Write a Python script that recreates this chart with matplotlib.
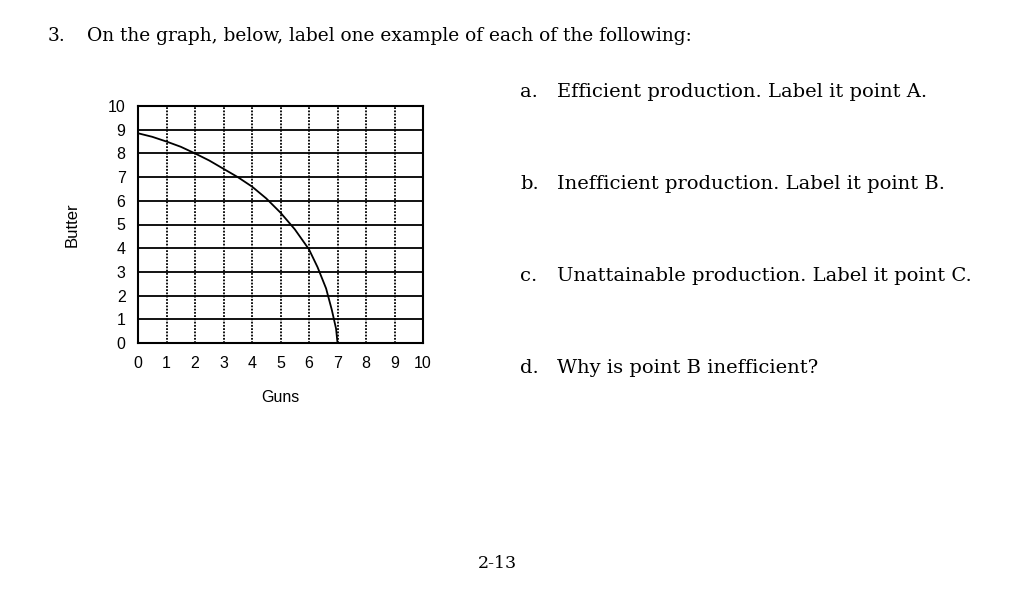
import matplotlib
matplotlib.use("Agg")
import matplotlib.pyplot as plt

guns = [0, 0.5, 1, 1.5, 2, 2.5, 3, 3.5, 4, 4.5, 5, 5.5, 6, 6.3, 6.6, 6.8, 6.95, 7]
butter = [8.85, 8.7, 8.5, 8.28, 8.0, 7.7, 7.35, 7.0, 6.6, 6.1, 5.5, 4.8, 3.95, 3.2, 2.3, 1.4, 0.6, 0]
ticks = list(range(11))

title_num = "3."
title = "On the graph, below, label one example of each of the following:"
items = [
    ("a.", "Efficient production. Label it point A."),
    ("b.", "Inefficient production. Label it point B."),
    ("c.", "Unattainable production. Label it point C."),
    ("d.", "Why is point B inefficient?"),
]
page = "2-13"

serif = "DejaVu Serif"
sans = "Liberation Sans"

fig = plt.figure(figsize=(10.24, 5.97), dpi=100)
ax = fig.add_axes([138/1024, 1-343/597, 285/1024, 237/597])
ax.set_xlim(0, 10)
ax.set_ylim(0, 10)
for v in ticks[1:10]:
    ax.axvline(v, color="black", lw=1.3, ls=(0, (1, 0.8)))
    ax.axhline(v, color="black", lw=1.3)
ax.plot(guns, butter, color="black", lw=1.3)
for s in ax.spines.values():
    s.set_linewidth(1.5)
ax.set_xticks(ticks)
ax.set_yticks(ticks)
ax.tick_params(length=0, labelsize=11.5, pad=9)
for lab in ax.get_xticklabels() + ax.get_yticklabels():
    lab.set_family(sans)
ax.set_xlabel("Guns", family=sans, fontsize=11.5, labelpad=14)
ax.set_ylabel("Butter", family=sans, fontsize=12, labelpad=20)

fig.text(48/1024, 1-36/597, title_num, family=serif, fontsize=13.4, va="center")
fig.text(87/1024, 1-36/597, title, family=serif, fontsize=13.4, va="center")
ys = [92, 184, 276, 368]
for (l, t), y in zip(items, ys):
    fig.text(520/1024, 1-y/597, l, family=serif, fontsize=14, va="center")
    fig.text(557/1024, 1-y/597, t, family=serif, fontsize=14, va="center")
fig.text(497/1024, 1-563/597, page, family=serif, fontsize=12.5, va="center", ha="center")

fig.savefig("out.png", dpi=100, facecolor="white")
